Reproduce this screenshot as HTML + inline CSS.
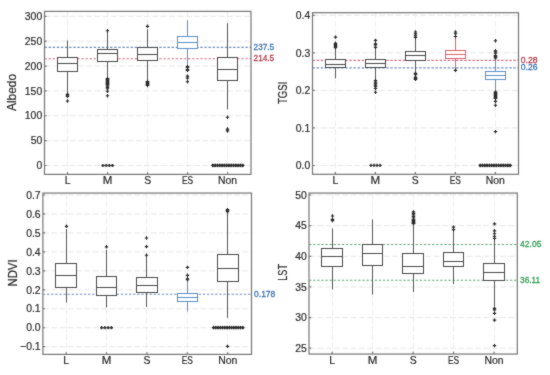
<!DOCTYPE html>
<html><head><meta charset="utf-8"><title>Boxplots</title>
<style>
html,body{margin:0;padding:0;background:#fff;}
body{width:550px;height:375px;overflow:hidden;}
svg{display:block;}
.tk{font-family:"Liberation Sans", "DejaVu Sans", sans-serif;font-size:10.4px;fill:#2a2a2a;stroke:#2a2a2a;stroke-width:0.2px;}
.yl{font-family:"Liberation Sans", "DejaVu Sans", sans-serif;font-size:12px;fill:#2a2a2a;stroke:#2a2a2a;stroke-width:0.2px;}
.rl{font-family:"Liberation Sans", "DejaVu Sans", sans-serif;font-size:9.6px;stroke-width:0.3px;}
</style></head><body>
<svg width="550" height="375" viewBox="0 0 550 375">
<defs><filter id="soft" x="0" y="0" width="550" height="375" filterUnits="userSpaceOnUse" color-interpolation-filters="sRGB"><feConvolveMatrix order="3" kernelMatrix="1 2 1 2 20 2 1 2 1" edgeMode="duplicate"/></filter></defs>
<g filter="url(#soft)">
<rect width="550" height="375" fill="#fff"/>
<path d="M44.5 165.5H251M44.5 140.63H251M44.5 115.77H251M44.5 90.9H251M44.5 66.03H251M44.5 41.17H251M44.5 16.3H251" stroke="#e7e7e7" stroke-width="1" stroke-dasharray="6 2.3" fill="none"/>
<path d="M67.5 11.4V174.4M107.5 11.4V174.4M147.5 11.4V174.4M187.5 11.4V174.4M227.5 11.4V174.4" stroke="#eeeeee" stroke-width="1" stroke-dasharray="6 2.3" fill="none"/>
<path d="M44.5 47.38H251" stroke="#6d8cc0" stroke-width="1.05" stroke-dasharray="2.4 1.7" fill="none"/>
<path d="M44.5 58.82H251" stroke="#da6a82" stroke-width="1.05" stroke-dasharray="2.4 1.7" fill="none"/>
<path d="M67.5 40.5V57.5M67.5 71.5V93.9" stroke="#575757" stroke-width="1.0" fill="none"/>
<rect x="57.5" y="57.5" width="20" height="14" fill="#fff" stroke="#4a4a4a" stroke-width="1.0"/>
<path d="M57.5 63.5H77.5" stroke="#4a4a4a" stroke-width="1.0"/>
<path d="M65.8 94.3H69.2M67.5 92.6V96" stroke="#2b2b2b" stroke-width="1.15"/>
<path d="M65.8 95.2H69.2M67.5 93.5V96.9" stroke="#2b2b2b" stroke-width="1.15"/>
<path d="M65.8 96.3H69.2M67.5 94.6V98" stroke="#2b2b2b" stroke-width="1.15"/>
<path d="M65.8 101H69.2M67.5 99.3V102.7" stroke="#2b2b2b" stroke-width="1.15"/>
<path d="M107.5 31.5V49.5M107.5 61.5V78.2" stroke="#575757" stroke-width="1.0" fill="none"/>
<rect x="97.5" y="49.5" width="20" height="12" fill="#fff" stroke="#4a4a4a" stroke-width="1.0"/>
<path d="M97.5 53.5H117.5" stroke="#4a4a4a" stroke-width="1.0"/>
<rect x="105.7" y="78.3" width="3.6" height="7" fill="#2b2b2b"/>
<path d="M105.8 30.7H109.2M107.5 29V32.4" stroke="#2b2b2b" stroke-width="1.15"/>
<path d="M105.8 78.6H109.2M107.5 76.9V80.3" stroke="#2b2b2b" stroke-width="1.15"/>
<path d="M105.8 85H109.2M107.5 83.3V86.7" stroke="#2b2b2b" stroke-width="1.15"/>
<path d="M105.8 86.2H109.2M107.5 84.5V87.9" stroke="#2b2b2b" stroke-width="1.15"/>
<path d="M105.8 87.5H109.2M107.5 85.8V89.2" stroke="#2b2b2b" stroke-width="1.15"/>
<path d="M105.8 88.7H109.2M107.5 87V90.4" stroke="#2b2b2b" stroke-width="1.15"/>
<path d="M105.8 91.2H109.2M107.5 89.5V92.9" stroke="#2b2b2b" stroke-width="1.15"/>
<path d="M105.8 95.7H109.2M107.5 94V97.4" stroke="#2b2b2b" stroke-width="1.15"/>
<path d="M101.3 165.5H104.5M102.9 163.9V167.1" stroke="#333" stroke-width="1.4"/>
<path d="M104.5 165.5H107.7M106.1 163.9V167.1" stroke="#333" stroke-width="1.4"/>
<path d="M107.7 165.5H110.9M109.3 163.9V167.1" stroke="#333" stroke-width="1.4"/>
<path d="M110.9 165.5H114.1M112.5 163.9V167.1" stroke="#333" stroke-width="1.4"/>
<path d="M147.5 29.2V47.5M147.5 60.5V80.9" stroke="#575757" stroke-width="1.0" fill="none"/>
<rect x="137.5" y="47.5" width="20" height="13" fill="#fff" stroke="#4a4a4a" stroke-width="1.0"/>
<path d="M137.5 54.5H157.5" stroke="#4a4a4a" stroke-width="1.0"/>
<rect x="145.7" y="81.2" width="3.6" height="4.6" fill="#2b2b2b"/>
<path d="M145.8 26.3H149.2M147.5 24.6V28" stroke="#2b2b2b" stroke-width="1.15"/>
<path d="M145.8 81.5H149.2M147.5 79.8V83.2" stroke="#2b2b2b" stroke-width="1.15"/>
<path d="M145.8 85.5H149.2M147.5 83.8V87.2" stroke="#2b2b2b" stroke-width="1.15"/>
<path d="M187.5 20.2V36.5M187.5 48.5V66.2" stroke="#5a90cc" stroke-width="1.0" fill="none"/>
<rect x="177.5" y="36.5" width="20" height="12" fill="#fff" stroke="#5a90cc" stroke-width="1.0"/>
<path d="M177.5 42.5H197.5" stroke="#5a90cc" stroke-width="1.0"/>
<path d="M185.8 66.6H189.2M187.5 64.9V68.3" stroke="#2b2b2b" stroke-width="1.15"/>
<path d="M185.8 67.4H189.2M187.5 65.7V69.1" stroke="#2b2b2b" stroke-width="1.15"/>
<path d="M185.8 69.6H189.2M187.5 67.9V71.3" stroke="#2b2b2b" stroke-width="1.15"/>
<path d="M185.8 70.4H189.2M187.5 68.7V72.1" stroke="#2b2b2b" stroke-width="1.15"/>
<path d="M185.8 76.1H189.2M187.5 74.4V77.8" stroke="#2b2b2b" stroke-width="1.15"/>
<path d="M185.8 78.1H189.2M187.5 76.4V79.8" stroke="#2b2b2b" stroke-width="1.15"/>
<path d="M185.8 81.7H189.2M187.5 80V83.4" stroke="#2b2b2b" stroke-width="1.15"/>
<path d="M227.5 23.2V57.5M227.5 80.5V109.5" stroke="#575757" stroke-width="1.0" fill="none"/>
<rect x="217.5" y="57.5" width="20" height="23" fill="#fff" stroke="#4a4a4a" stroke-width="1.0"/>
<path d="M217.5 69.5H237.5" stroke="#4a4a4a" stroke-width="1.0"/>
<path d="M225.8 117.2H229.2M227.5 115.5V118.9" stroke="#2b2b2b" stroke-width="1.15"/>
<path d="M225.8 129H229.2M227.5 127.3V130.7" stroke="#2b2b2b" stroke-width="1.15"/>
<path d="M225.8 130H229.2M227.5 128.3V131.7" stroke="#2b2b2b" stroke-width="1.15"/>
<path d="M225.8 131H229.2M227.5 129.3V132.7" stroke="#2b2b2b" stroke-width="1.15"/>
<path d="M211.2 165.4H244.4" stroke="#2b2b2b" stroke-width="1.1"/>
<ellipse cx="212.9" cy="165.4" rx="1.15" ry="1.95" fill="#2b2b2b"/>
<ellipse cx="215.19" cy="165.4" rx="1.15" ry="1.95" fill="#2b2b2b"/>
<ellipse cx="217.48" cy="165.4" rx="1.15" ry="1.95" fill="#2b2b2b"/>
<ellipse cx="219.78" cy="165.4" rx="1.15" ry="1.95" fill="#2b2b2b"/>
<ellipse cx="222.07" cy="165.4" rx="1.15" ry="1.95" fill="#2b2b2b"/>
<ellipse cx="224.36" cy="165.4" rx="1.15" ry="1.95" fill="#2b2b2b"/>
<ellipse cx="226.65" cy="165.4" rx="1.15" ry="1.95" fill="#2b2b2b"/>
<ellipse cx="228.95" cy="165.4" rx="1.15" ry="1.95" fill="#2b2b2b"/>
<ellipse cx="231.24" cy="165.4" rx="1.15" ry="1.95" fill="#2b2b2b"/>
<ellipse cx="233.53" cy="165.4" rx="1.15" ry="1.95" fill="#2b2b2b"/>
<ellipse cx="235.82" cy="165.4" rx="1.15" ry="1.95" fill="#2b2b2b"/>
<ellipse cx="238.12" cy="165.4" rx="1.15" ry="1.95" fill="#2b2b2b"/>
<ellipse cx="240.41" cy="165.4" rx="1.15" ry="1.95" fill="#2b2b2b"/>
<ellipse cx="242.7" cy="165.4" rx="1.15" ry="1.95" fill="#2b2b2b"/>
<rect x="44.5" y="11.4" width="206.5" height="163" fill="none" stroke="#767676" stroke-width="1.2"/>
<path d="M44.5 165.5h2.2M44.5 140.63h2.2M44.5 115.77h2.2M44.5 90.9h2.2M44.5 66.03h2.2M44.5 41.17h2.2M44.5 16.3h2.2M67.6 174.4v-2.2M107.6 174.4v-2.2M147.6 174.4v-2.2M187.6 174.4v-2.2M227.6 174.4v-2.2" stroke="#767676" stroke-width="1.2" fill="none"/>
<text x="42.2" y="169.2" text-anchor="end" class="tk">0</text>
<text x="42.2" y="144.33" text-anchor="end" class="tk">50</text>
<text x="42.2" y="119.47" text-anchor="end" class="tk">100</text>
<text x="42.2" y="94.6" text-anchor="end" class="tk">150</text>
<text x="42.2" y="69.73" text-anchor="end" class="tk">200</text>
<text x="42.2" y="44.87" text-anchor="end" class="tk">250</text>
<text x="42.2" y="20" text-anchor="end" class="tk">300</text>
<text x="67.6" y="183.5" text-anchor="middle" class="tk">L</text>
<text x="107.6" y="183.5" text-anchor="middle" class="tk" textLength="9.6" lengthAdjust="spacingAndGlyphs">M</text>
<text x="147.6" y="183.5" text-anchor="middle" class="tk">S</text>
<text x="187.6" y="183.5" text-anchor="middle" class="tk" textLength="11.2" lengthAdjust="spacingAndGlyphs">ES</text>
<text x="227.6" y="183.5" text-anchor="middle" class="tk">Non</text>
<text transform="translate(16 92.5) rotate(-90)" text-anchor="middle" class="yl" textLength="37" lengthAdjust="spacingAndGlyphs">Albedo</text>
<text x="253.6" y="50.4" class="rl" fill="#3b73b5" stroke="#3b73b5" textLength="20.6" lengthAdjust="spacingAndGlyphs">237.5</text>
<text x="253.6" y="60.8" class="rl" fill="#b23a4c" stroke="#b23a4c" textLength="20.6" lengthAdjust="spacingAndGlyphs">214.5</text>
<path d="M312.5 165.5H518.5M312.5 127.95H518.5M312.5 90.4H518.5M312.5 52.85H518.5M312.5 15.3H518.5" stroke="#e7e7e7" stroke-width="1" stroke-dasharray="6 2.3" fill="none"/>
<path d="M335.5 12.7V174.3M375.5 12.7V174.3M415.5 12.7V174.3M455.5 12.7V174.3M495.5 12.7V174.3" stroke="#eeeeee" stroke-width="1" stroke-dasharray="6 2.3" fill="none"/>
<path d="M312.5 60.36H518.5" stroke="#da6a82" stroke-width="1.05" stroke-dasharray="2.4 1.7" fill="none"/>
<path d="M312.5 67.87H518.5" stroke="#6d8cc0" stroke-width="1.05" stroke-dasharray="2.4 1.7" fill="none"/>
<path d="M335.5 48.5V59.5M335.5 67.5V78.4" stroke="#575757" stroke-width="1.0" fill="none"/>
<rect x="325.5" y="59.5" width="20" height="8" fill="#fff" stroke="#4a4a4a" stroke-width="1.0"/>
<path d="M325.5 64.5H345.5" stroke="#4a4a4a" stroke-width="1.0"/>
<path d="M333.8 37.1H337.2M335.5 35.4V38.8" stroke="#2b2b2b" stroke-width="1.15"/>
<path d="M333.8 43.3H337.2M335.5 41.6V45" stroke="#2b2b2b" stroke-width="1.15"/>
<path d="M333.8 44.3H337.2M335.5 42.6V46" stroke="#2b2b2b" stroke-width="1.15"/>
<path d="M333.8 45.3H337.2M335.5 43.6V47" stroke="#2b2b2b" stroke-width="1.15"/>
<path d="M333.8 46.3H337.2M335.5 44.6V48" stroke="#2b2b2b" stroke-width="1.15"/>
<path d="M333.8 47.6H337.2M335.5 45.9V49.3" stroke="#2b2b2b" stroke-width="1.15"/>
<path d="M375.5 47.8V59.5M375.5 67.5V79.6" stroke="#575757" stroke-width="1.0" fill="none"/>
<rect x="365.5" y="59.5" width="20" height="8" fill="#fff" stroke="#4a4a4a" stroke-width="1.0"/>
<path d="M365.5 63.5H385.5" stroke="#4a4a4a" stroke-width="1.0"/>
<path d="M373.8 40.4H377.2M375.5 38.7V42.1" stroke="#2b2b2b" stroke-width="1.15"/>
<path d="M373.8 43.8H377.2M375.5 42.1V45.5" stroke="#2b2b2b" stroke-width="1.15"/>
<path d="M373.8 44.8H377.2M375.5 43.1V46.5" stroke="#2b2b2b" stroke-width="1.15"/>
<path d="M373.8 47.3H377.2M375.5 45.6V49" stroke="#2b2b2b" stroke-width="1.15"/>
<path d="M373.8 80.5H377.2M375.5 78.8V82.2" stroke="#2b2b2b" stroke-width="1.15"/>
<path d="M373.8 82H377.2M375.5 80.3V83.7" stroke="#2b2b2b" stroke-width="1.15"/>
<path d="M373.8 83H377.2M375.5 81.3V84.7" stroke="#2b2b2b" stroke-width="1.15"/>
<path d="M373.8 84H377.2M375.5 82.3V85.7" stroke="#2b2b2b" stroke-width="1.15"/>
<path d="M373.8 85H377.2M375.5 83.3V86.7" stroke="#2b2b2b" stroke-width="1.15"/>
<path d="M373.8 86.3H377.2M375.5 84.6V88" stroke="#2b2b2b" stroke-width="1.15"/>
<path d="M373.8 88.3H377.2M375.5 86.6V90" stroke="#2b2b2b" stroke-width="1.15"/>
<path d="M373.8 92.2H377.2M375.5 90.5V93.9" stroke="#2b2b2b" stroke-width="1.15"/>
<path d="M369.3 165.4H372.5M370.9 163.8V167" stroke="#333" stroke-width="1.4"/>
<path d="M372.37 165.4H375.57M373.97 163.8V167" stroke="#333" stroke-width="1.4"/>
<path d="M375.43 165.4H378.63M377.03 163.8V167" stroke="#333" stroke-width="1.4"/>
<path d="M378.5 165.4H381.7M380.1 163.8V167" stroke="#333" stroke-width="1.4"/>
<path d="M415.5 38V51.5M415.5 60.5V72.7" stroke="#575757" stroke-width="1.0" fill="none"/>
<rect x="405.5" y="51.5" width="20" height="9" fill="#fff" stroke="#4a4a4a" stroke-width="1.0"/>
<path d="M405.5 55.5H425.5" stroke="#4a4a4a" stroke-width="1.0"/>
<path d="M413.8 32H417.2M415.5 30.3V33.7" stroke="#2b2b2b" stroke-width="1.15"/>
<path d="M413.8 33.9H417.2M415.5 32.2V35.6" stroke="#2b2b2b" stroke-width="1.15"/>
<path d="M413.8 35.8H417.2M415.5 34.1V37.5" stroke="#2b2b2b" stroke-width="1.15"/>
<path d="M413.8 37.5H417.2M415.5 35.8V39.2" stroke="#2b2b2b" stroke-width="1.15"/>
<path d="M413.8 73.4H417.2M415.5 71.7V75.1" stroke="#2b2b2b" stroke-width="1.15"/>
<path d="M413.8 74.4H417.2M415.5 72.7V76.1" stroke="#2b2b2b" stroke-width="1.15"/>
<path d="M413.8 77H417.2M415.5 75.3V78.7" stroke="#2b2b2b" stroke-width="1.15"/>
<path d="M413.8 77.8H417.2M415.5 76.1V79.5" stroke="#2b2b2b" stroke-width="1.15"/>
<path d="M413.8 78.6H417.2M415.5 76.9V80.3" stroke="#2b2b2b" stroke-width="1.15"/>
<path d="M413.8 79.3H417.2M415.5 77.6V81" stroke="#2b2b2b" stroke-width="1.15"/>
<path d="M455.5 37.5V50.5M455.5 58.5V69.5" stroke="#e0606f" stroke-width="1.0" fill="none"/>
<rect x="445.5" y="50.5" width="20" height="8" fill="#fff" stroke="#e0606f" stroke-width="1.0"/>
<path d="M445.5 54.5H465.5" stroke="#e0606f" stroke-width="1.0"/>
<path d="M453.8 32H457.2M455.5 30.3V33.7" stroke="#2b2b2b" stroke-width="1.15"/>
<path d="M453.8 33.7H457.2M455.5 32V35.4" stroke="#2b2b2b" stroke-width="1.15"/>
<path d="M453.8 36.5H457.2M455.5 34.8V38.2" stroke="#2b2b2b" stroke-width="1.15"/>
<path d="M453.8 70.3H457.2M455.5 68.6V72" stroke="#2b2b2b" stroke-width="1.15"/>
<path d="M495.5 58.6V71.5M495.5 79.5V91.4" stroke="#5a90cc" stroke-width="1.0" fill="none"/>
<rect x="485.5" y="71.5" width="20" height="8" fill="#fff" stroke="#5a90cc" stroke-width="1.0"/>
<path d="M485.5 75.5H505.5" stroke="#5a90cc" stroke-width="1.0"/>
<rect x="493.7" y="91.7" width="3.6" height="7.1" fill="#2b2b2b"/>
<path d="M493.8 40.7H497.2M495.5 39V42.4" stroke="#2b2b2b" stroke-width="1.15"/>
<path d="M493.8 50.8H497.2M495.5 49.1V52.5" stroke="#2b2b2b" stroke-width="1.15"/>
<path d="M493.8 51.8H497.2M495.5 50.1V53.5" stroke="#2b2b2b" stroke-width="1.15"/>
<path d="M493.8 53.2H497.2M495.5 51.5V54.9" stroke="#2b2b2b" stroke-width="1.15"/>
<path d="M493.8 55.6H497.2M495.5 53.9V57.3" stroke="#2b2b2b" stroke-width="1.15"/>
<path d="M493.8 56.4H497.2M495.5 54.7V58.1" stroke="#2b2b2b" stroke-width="1.15"/>
<path d="M493.8 57.2H497.2M495.5 55.5V58.9" stroke="#2b2b2b" stroke-width="1.15"/>
<path d="M493.8 58H497.2M495.5 56.3V59.7" stroke="#2b2b2b" stroke-width="1.15"/>
<path d="M493.8 92H497.2M495.5 90.3V93.7" stroke="#2b2b2b" stroke-width="1.15"/>
<path d="M493.8 98.5H497.2M495.5 96.8V100.2" stroke="#2b2b2b" stroke-width="1.15"/>
<path d="M493.8 101.3H497.2M495.5 99.6V103" stroke="#2b2b2b" stroke-width="1.15"/>
<path d="M493.8 105.2H497.2M495.5 103.5V106.9" stroke="#2b2b2b" stroke-width="1.15"/>
<path d="M493.8 131.6H497.2M495.5 129.9V133.3" stroke="#2b2b2b" stroke-width="1.15"/>
<path d="M478.5 165.4H511.9" stroke="#2b2b2b" stroke-width="1.1"/>
<ellipse cx="480.2" cy="165.4" rx="1.15" ry="1.95" fill="#2b2b2b"/>
<ellipse cx="482.51" cy="165.4" rx="1.15" ry="1.95" fill="#2b2b2b"/>
<ellipse cx="484.82" cy="165.4" rx="1.15" ry="1.95" fill="#2b2b2b"/>
<ellipse cx="487.12" cy="165.4" rx="1.15" ry="1.95" fill="#2b2b2b"/>
<ellipse cx="489.43" cy="165.4" rx="1.15" ry="1.95" fill="#2b2b2b"/>
<ellipse cx="491.74" cy="165.4" rx="1.15" ry="1.95" fill="#2b2b2b"/>
<ellipse cx="494.05" cy="165.4" rx="1.15" ry="1.95" fill="#2b2b2b"/>
<ellipse cx="496.35" cy="165.4" rx="1.15" ry="1.95" fill="#2b2b2b"/>
<ellipse cx="498.66" cy="165.4" rx="1.15" ry="1.95" fill="#2b2b2b"/>
<ellipse cx="500.97" cy="165.4" rx="1.15" ry="1.95" fill="#2b2b2b"/>
<ellipse cx="503.28" cy="165.4" rx="1.15" ry="1.95" fill="#2b2b2b"/>
<ellipse cx="505.58" cy="165.4" rx="1.15" ry="1.95" fill="#2b2b2b"/>
<ellipse cx="507.89" cy="165.4" rx="1.15" ry="1.95" fill="#2b2b2b"/>
<ellipse cx="510.2" cy="165.4" rx="1.15" ry="1.95" fill="#2b2b2b"/>
<rect x="312.5" y="12.7" width="206" height="161.6" fill="none" stroke="#767676" stroke-width="1.2"/>
<path d="M312.5 165.5h2.2M312.5 127.95h2.2M312.5 90.4h2.2M312.5 52.85h2.2M312.5 15.3h2.2M335.3 174.3v-2.2M375.3 174.3v-2.2M415.3 174.3v-2.2M455.3 174.3v-2.2M495.3 174.3v-2.2" stroke="#767676" stroke-width="1.2" fill="none"/>
<text x="310.2" y="169.2" text-anchor="end" class="tk">0.0</text>
<text x="310.2" y="131.65" text-anchor="end" class="tk">0.1</text>
<text x="310.2" y="94.1" text-anchor="end" class="tk">0.2</text>
<text x="310.2" y="56.55" text-anchor="end" class="tk">0.3</text>
<text x="310.2" y="19" text-anchor="end" class="tk">0.4</text>
<text x="335.3" y="183.5" text-anchor="middle" class="tk">L</text>
<text x="375.3" y="183.5" text-anchor="middle" class="tk" textLength="9.6" lengthAdjust="spacingAndGlyphs">M</text>
<text x="415.3" y="183.5" text-anchor="middle" class="tk">S</text>
<text x="455.3" y="183.5" text-anchor="middle" class="tk" textLength="11.2" lengthAdjust="spacingAndGlyphs">ES</text>
<text x="495.3" y="183.5" text-anchor="middle" class="tk">Non</text>
<text transform="translate(286.8 92.8) rotate(-90)" text-anchor="middle" class="yl" textLength="22.4" lengthAdjust="spacingAndGlyphs">TGSI</text>
<text x="520.8" y="62.5" class="rl" fill="#b23a4c" stroke="#b23a4c" textLength="16.8" lengthAdjust="spacingAndGlyphs">0.28</text>
<text x="520.8" y="70.3" class="rl" fill="#3b73b5" stroke="#3b73b5" textLength="16.8" lengthAdjust="spacingAndGlyphs">0.26</text>
<path d="M42.9 346.7H251.5M42.9 327.74H251.5M42.9 308.77H251.5M42.9 289.81H251.5M42.9 270.85H251.5M42.9 251.89H251.5M42.9 232.92H251.5M42.9 213.96H251.5M42.9 195H251.5" stroke="#e7e7e7" stroke-width="1" stroke-dasharray="6 2.3" fill="none"/>
<path d="M66.5 193.05V354.4M106.5 193.05V354.4M146.5 193.05V354.4M187.5 193.05V354.4M227.5 193.05V354.4" stroke="#eeeeee" stroke-width="1" stroke-dasharray="6 2.3" fill="none"/>
<path d="M42.9 294.2H251.5" stroke="#6d8cc0" stroke-width="1.05" stroke-dasharray="2.4 1.7" fill="none"/>
<path d="M66.5 229V263.5M66.5 287.5V302.5" stroke="#575757" stroke-width="1.0" fill="none"/>
<rect x="55.5" y="263.5" width="21" height="24" fill="#fff" stroke="#4a4a4a" stroke-width="1.0"/>
<path d="M55.5 275.5H76.5" stroke="#4a4a4a" stroke-width="1.0"/>
<path d="M64.8 226.3H68.2M66.5 224.6V228" stroke="#2b2b2b" stroke-width="1.15"/>
<path d="M106.5 249.7V276.5M106.5 295.5V307.5" stroke="#575757" stroke-width="1.0" fill="none"/>
<rect x="96.5" y="276.5" width="20" height="19" fill="#fff" stroke="#4a4a4a" stroke-width="1.0"/>
<path d="M96.5 287.5H116.5" stroke="#4a4a4a" stroke-width="1.0"/>
<path d="M104.8 246.8H108.2M106.5 245.1V248.5" stroke="#2b2b2b" stroke-width="1.15"/>
<path d="M100 327.7H103.2M101.6 326.1V329.3" stroke="#333" stroke-width="1.4"/>
<path d="M103.27 327.7H106.47M104.87 326.1V329.3" stroke="#333" stroke-width="1.4"/>
<path d="M106.53 327.7H109.73M108.13 326.1V329.3" stroke="#333" stroke-width="1.4"/>
<path d="M109.8 327.7H113M111.4 326.1V329.3" stroke="#333" stroke-width="1.4"/>
<path d="M146.5 256.8V277.5M146.5 292.5V307" stroke="#575757" stroke-width="1.0" fill="none"/>
<rect x="136.5" y="277.5" width="21" height="15" fill="#fff" stroke="#4a4a4a" stroke-width="1.0"/>
<path d="M136.5 285.5H157.5" stroke="#4a4a4a" stroke-width="1.0"/>
<path d="M144.8 238H148.2M146.5 236.3V239.7" stroke="#2b2b2b" stroke-width="1.15"/>
<path d="M144.8 246.6H148.2M146.5 244.9V248.3" stroke="#2b2b2b" stroke-width="1.15"/>
<path d="M144.8 255.2H148.2M146.5 253.5V256.9" stroke="#2b2b2b" stroke-width="1.15"/>
<path d="M187.5 281.2V293.5M187.5 301.5V311.5" stroke="#5a90cc" stroke-width="1.0" fill="none"/>
<rect x="177.5" y="293.5" width="20" height="8" fill="#fff" stroke="#5a90cc" stroke-width="1.0"/>
<path d="M177.5 297.5H197.5" stroke="#5a90cc" stroke-width="1.0"/>
<path d="M185.8 267.4H189.2M187.5 265.7V269.1" stroke="#2b2b2b" stroke-width="1.15"/>
<path d="M185.8 275.3H189.2M187.5 273.6V277" stroke="#2b2b2b" stroke-width="1.15"/>
<path d="M185.8 278.8H189.2M187.5 277.1V280.5" stroke="#2b2b2b" stroke-width="1.15"/>
<path d="M185.8 279.7H189.2M187.5 278V281.4" stroke="#2b2b2b" stroke-width="1.15"/>
<path d="M227.5 212V254.5M227.5 281.5V317.8" stroke="#575757" stroke-width="1.0" fill="none"/>
<rect x="217.5" y="254.5" width="21" height="27" fill="#fff" stroke="#4a4a4a" stroke-width="1.0"/>
<path d="M217.5 268.5H238.5" stroke="#4a4a4a" stroke-width="1.0"/>
<path d="M225.8 209.6H229.2M227.5 207.9V211.3" stroke="#2b2b2b" stroke-width="1.15"/>
<path d="M225.8 210.4H229.2M227.5 208.7V212.1" stroke="#2b2b2b" stroke-width="1.15"/>
<path d="M225.8 211.6H229.2M227.5 209.9V213.3" stroke="#2b2b2b" stroke-width="1.15"/>
<path d="M225.8 346.4H229.2M227.5 344.7V348.1" stroke="#2b2b2b" stroke-width="1.15"/>
<path d="M211.9 327.6H244.5" stroke="#2b2b2b" stroke-width="1.1"/>
<ellipse cx="213.6" cy="327.6" rx="1.15" ry="1.95" fill="#2b2b2b"/>
<ellipse cx="215.85" cy="327.6" rx="1.15" ry="1.95" fill="#2b2b2b"/>
<ellipse cx="218.09" cy="327.6" rx="1.15" ry="1.95" fill="#2b2b2b"/>
<ellipse cx="220.34" cy="327.6" rx="1.15" ry="1.95" fill="#2b2b2b"/>
<ellipse cx="222.58" cy="327.6" rx="1.15" ry="1.95" fill="#2b2b2b"/>
<ellipse cx="224.83" cy="327.6" rx="1.15" ry="1.95" fill="#2b2b2b"/>
<ellipse cx="227.08" cy="327.6" rx="1.15" ry="1.95" fill="#2b2b2b"/>
<ellipse cx="229.32" cy="327.6" rx="1.15" ry="1.95" fill="#2b2b2b"/>
<ellipse cx="231.57" cy="327.6" rx="1.15" ry="1.95" fill="#2b2b2b"/>
<ellipse cx="233.82" cy="327.6" rx="1.15" ry="1.95" fill="#2b2b2b"/>
<ellipse cx="236.06" cy="327.6" rx="1.15" ry="1.95" fill="#2b2b2b"/>
<ellipse cx="238.31" cy="327.6" rx="1.15" ry="1.95" fill="#2b2b2b"/>
<ellipse cx="240.55" cy="327.6" rx="1.15" ry="1.95" fill="#2b2b2b"/>
<ellipse cx="242.8" cy="327.6" rx="1.15" ry="1.95" fill="#2b2b2b"/>
<rect x="42.9" y="193.05" width="208.6" height="161.35" fill="none" stroke="#767676" stroke-width="1.2"/>
<path d="M42.9 346.7h2.2M42.9 327.74h2.2M42.9 308.77h2.2M42.9 289.81h2.2M42.9 270.85h2.2M42.9 251.89h2.2M42.9 232.92h2.2M42.9 213.96h2.2M42.9 195h2.2M66.15 354.4v-2.2M106.55 354.4v-2.2M146.95 354.4v-2.2M187.35 354.4v-2.2M227.75 354.4v-2.2" stroke="#767676" stroke-width="1.2" fill="none"/>
<text x="40.6" y="350.4" text-anchor="end" class="tk">−0.1</text>
<text x="40.6" y="331.44" text-anchor="end" class="tk">0.0</text>
<text x="40.6" y="312.47" text-anchor="end" class="tk">0.1</text>
<text x="40.6" y="293.51" text-anchor="end" class="tk">0.2</text>
<text x="40.6" y="274.55" text-anchor="end" class="tk">0.3</text>
<text x="40.6" y="255.59" text-anchor="end" class="tk">0.4</text>
<text x="40.6" y="236.62" text-anchor="end" class="tk">0.5</text>
<text x="40.6" y="217.66" text-anchor="end" class="tk">0.6</text>
<text x="40.6" y="198.7" text-anchor="end" class="tk">0.7</text>
<text x="66.15" y="363.5" text-anchor="middle" class="tk">L</text>
<text x="106.55" y="363.5" text-anchor="middle" class="tk" textLength="9.6" lengthAdjust="spacingAndGlyphs">M</text>
<text x="146.95" y="363.5" text-anchor="middle" class="tk">S</text>
<text x="187.35" y="363.5" text-anchor="middle" class="tk" textLength="11.2" lengthAdjust="spacingAndGlyphs">ES</text>
<text x="227.75" y="363.5" text-anchor="middle" class="tk">Non</text>
<text transform="translate(17.3 273) rotate(-90)" text-anchor="middle" class="yl" textLength="27.2" lengthAdjust="spacingAndGlyphs">NDVI</text>
<text x="254.1" y="296.6" class="rl" fill="#3b73b5" stroke="#3b73b5" textLength="21.2" lengthAdjust="spacingAndGlyphs">0.178</text>
<path d="M309 348.2H517.3M309 317.56H517.3M309 286.92H517.3M309 256.28H517.3M309 225.64H517.3M309 195H517.3" stroke="#e7e7e7" stroke-width="1" stroke-dasharray="6 2.3" fill="none"/>
<path d="M332.5 193.05V354.05M372.5 193.05V354.05M413.5 193.05V354.05M453.5 193.05V354.05M494.5 193.05V354.05" stroke="#eeeeee" stroke-width="1" stroke-dasharray="6 2.3" fill="none"/>
<path d="M309 244.4H517.3" stroke="#64a87c" stroke-width="1.05" stroke-dasharray="2.4 1.7" fill="none"/>
<path d="M309 280.2H517.3" stroke="#64a87c" stroke-width="1.05" stroke-dasharray="2.4 1.7" fill="none"/>
<path d="M332.5 228.5V248.5M332.5 266.5V289.4" stroke="#575757" stroke-width="1.0" fill="none"/>
<rect x="321.5" y="248.5" width="21" height="18" fill="#fff" stroke="#4a4a4a" stroke-width="1.0"/>
<path d="M321.5 256.5H342.5" stroke="#4a4a4a" stroke-width="1.0"/>
<path d="M330.8 216H334.2M332.5 214.3V217.7" stroke="#2b2b2b" stroke-width="1.15"/>
<path d="M330.8 219.4H334.2M332.5 217.7V221.1" stroke="#2b2b2b" stroke-width="1.15"/>
<path d="M330.8 220.6H334.2M332.5 218.9V222.3" stroke="#2b2b2b" stroke-width="1.15"/>
<path d="M372.5 219.5V244.5M372.5 265.5V294.5" stroke="#575757" stroke-width="1.0" fill="none"/>
<rect x="362.5" y="244.5" width="20" height="21" fill="#fff" stroke="#4a4a4a" stroke-width="1.0"/>
<path d="M362.5 253.5H382.5" stroke="#4a4a4a" stroke-width="1.0"/>
<path d="M413.5 224.1V253.5M413.5 273.5V292" stroke="#575757" stroke-width="1.0" fill="none"/>
<rect x="402.5" y="253.5" width="21" height="20" fill="#fff" stroke="#4a4a4a" stroke-width="1.0"/>
<path d="M402.5 266.5H423.5" stroke="#4a4a4a" stroke-width="1.0"/>
<rect x="411.7" y="219.5" width="3.6" height="4.4" fill="#2b2b2b"/>
<path d="M411.8 211.9H415.2M413.5 210.2V213.6" stroke="#2b2b2b" stroke-width="1.15"/>
<path d="M411.8 213.4H415.2M413.5 211.7V215.1" stroke="#2b2b2b" stroke-width="1.15"/>
<path d="M411.8 214.9H415.2M413.5 213.2V216.6" stroke="#2b2b2b" stroke-width="1.15"/>
<path d="M411.8 216.6H415.2M413.5 214.9V218.3" stroke="#2b2b2b" stroke-width="1.15"/>
<path d="M411.8 218H415.2M413.5 216.3V219.7" stroke="#2b2b2b" stroke-width="1.15"/>
<path d="M411.8 219.8H415.2M413.5 218.1V221.5" stroke="#2b2b2b" stroke-width="1.15"/>
<path d="M411.8 223.6H415.2M413.5 221.9V225.3" stroke="#2b2b2b" stroke-width="1.15"/>
<path d="M453.5 230.5V252.5M453.5 266.5V284" stroke="#575757" stroke-width="1.0" fill="none"/>
<rect x="443.5" y="252.5" width="20" height="14" fill="#fff" stroke="#4a4a4a" stroke-width="1.0"/>
<path d="M443.5 261.5H463.5" stroke="#4a4a4a" stroke-width="1.0"/>
<path d="M451.8 227.1H455.2M453.5 225.4V228.8" stroke="#2b2b2b" stroke-width="1.15"/>
<path d="M451.8 229.6H455.2M453.5 227.9V231.3" stroke="#2b2b2b" stroke-width="1.15"/>
<path d="M494.5 239V263.5M494.5 280.5V306.1" stroke="#575757" stroke-width="1.0" fill="none"/>
<rect x="483.5" y="263.5" width="21" height="17" fill="#fff" stroke="#4a4a4a" stroke-width="1.0"/>
<path d="M483.5 272.5H504.5" stroke="#4a4a4a" stroke-width="1.0"/>
<path d="M492.8 223.9H496.2M494.5 222.2V225.6" stroke="#2b2b2b" stroke-width="1.15"/>
<path d="M492.8 230.8H496.2M494.5 229.1V232.5" stroke="#2b2b2b" stroke-width="1.15"/>
<path d="M492.8 233.7H496.2M494.5 232V235.4" stroke="#2b2b2b" stroke-width="1.15"/>
<path d="M492.8 236.5H496.2M494.5 234.8V238.2" stroke="#2b2b2b" stroke-width="1.15"/>
<path d="M492.8 238.5H496.2M494.5 236.8V240.2" stroke="#2b2b2b" stroke-width="1.15"/>
<path d="M492.8 308.3H496.2M494.5 306.6V310" stroke="#2b2b2b" stroke-width="1.15"/>
<path d="M492.8 309.9H496.2M494.5 308.2V311.6" stroke="#2b2b2b" stroke-width="1.15"/>
<path d="M492.8 313.4H496.2M494.5 311.7V315.1" stroke="#2b2b2b" stroke-width="1.15"/>
<path d="M492.8 320.1H496.2M494.5 318.4V321.8" stroke="#2b2b2b" stroke-width="1.15"/>
<path d="M492.8 345.6H496.2M494.5 343.9V347.3" stroke="#2b2b2b" stroke-width="1.15"/>
<rect x="309" y="193.05" width="208.3" height="161" fill="none" stroke="#767676" stroke-width="1.2"/>
<path d="M309 348.2h2.2M309 317.56h2.2M309 286.92h2.2M309 256.28h2.2M309 225.64h2.2M309 195h2.2M332.2 354.05v-2.2M372.65 354.05v-2.2M413.1 354.05v-2.2M453.55 354.05v-2.2M494 354.05v-2.2" stroke="#767676" stroke-width="1.2" fill="none"/>
<text x="306.7" y="351.9" text-anchor="end" class="tk">25</text>
<text x="306.7" y="321.26" text-anchor="end" class="tk">30</text>
<text x="306.7" y="290.62" text-anchor="end" class="tk">35</text>
<text x="306.7" y="259.98" text-anchor="end" class="tk">40</text>
<text x="306.7" y="229.34" text-anchor="end" class="tk">45</text>
<text x="306.7" y="198.7" text-anchor="end" class="tk">50</text>
<text x="332.2" y="363.5" text-anchor="middle" class="tk">L</text>
<text x="372.65" y="363.5" text-anchor="middle" class="tk" textLength="9.6" lengthAdjust="spacingAndGlyphs">M</text>
<text x="413.1" y="363.5" text-anchor="middle" class="tk">S</text>
<text x="453.55" y="363.5" text-anchor="middle" class="tk" textLength="11.2" lengthAdjust="spacingAndGlyphs">ES</text>
<text x="494" y="363.5" text-anchor="middle" class="tk">Non</text>
<text transform="translate(286.8 272.4) rotate(-90)" text-anchor="middle" class="yl" textLength="16.8" lengthAdjust="spacingAndGlyphs">LST</text>
<text x="520.1" y="247.1" class="rl" fill="#2f9a4f" stroke="#2f9a4f" textLength="21.3" lengthAdjust="spacingAndGlyphs">42.05</text>
<text x="520.1" y="283.4" class="rl" fill="#2f9a4f" stroke="#2f9a4f" textLength="20.1" lengthAdjust="spacingAndGlyphs">36.11</text>
</g>
</svg>
</body></html>
